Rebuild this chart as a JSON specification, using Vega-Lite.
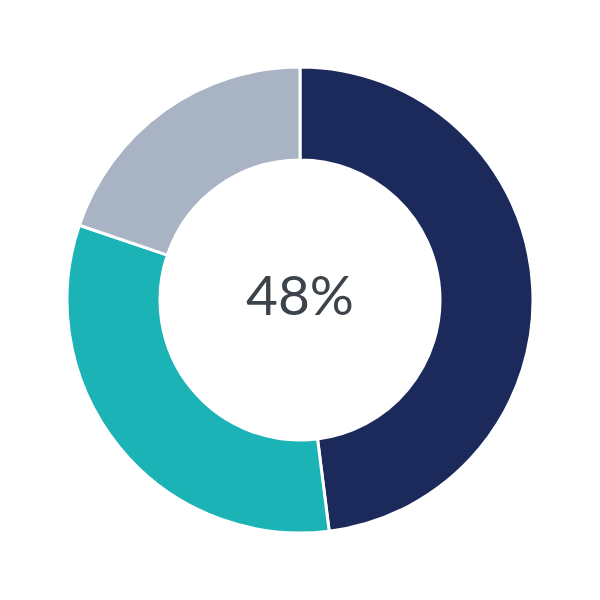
{
  "$schema": "https://vega.github.io/schema/vega-lite/v6.json",
  "width": 600,
  "height": 600,
  "autosize": {"type": "fit", "contains": "padding"},
  "padding": 0,
  "background": "white",
  "view": {"stroke": null},
  "data": {"values": [
    {"segment": "A", "value": 48, "order": 1},
    {"segment": "B", "value": 32.2, "order": 2},
    {"segment": "C", "value": 19.8, "order": 3}
  ]},
  "layer": [
    {
      "mark": {"type": "arc", "outerRadius": 233, "innerRadius": 140, "stroke": "white", "strokeWidth": 3},
      "encoding": {
        "theta": {"field": "value", "type": "quantitative", "stack": true},
        "order": {"field": "order", "type": "quantitative"},
        "color": {"field": "segment", "type": "nominal", "legend": null,
          "scale": {"domain": ["A", "B", "C"], "range": ["#1b2a5a", "#1bb3b6", "#a8b4c4"]}}
      }
    },
    {
      "data": {"values": [{"label": "48%"}]},
      "mark": {"type": "text", "font": "Lato", "fontSize": 55, "fontWeight": 400, "color": "#3d434a", "align": "center", "baseline": "middle", "dy": -2},
      "encoding": {"text": {"field": "label"}}
    }
  ]
}
